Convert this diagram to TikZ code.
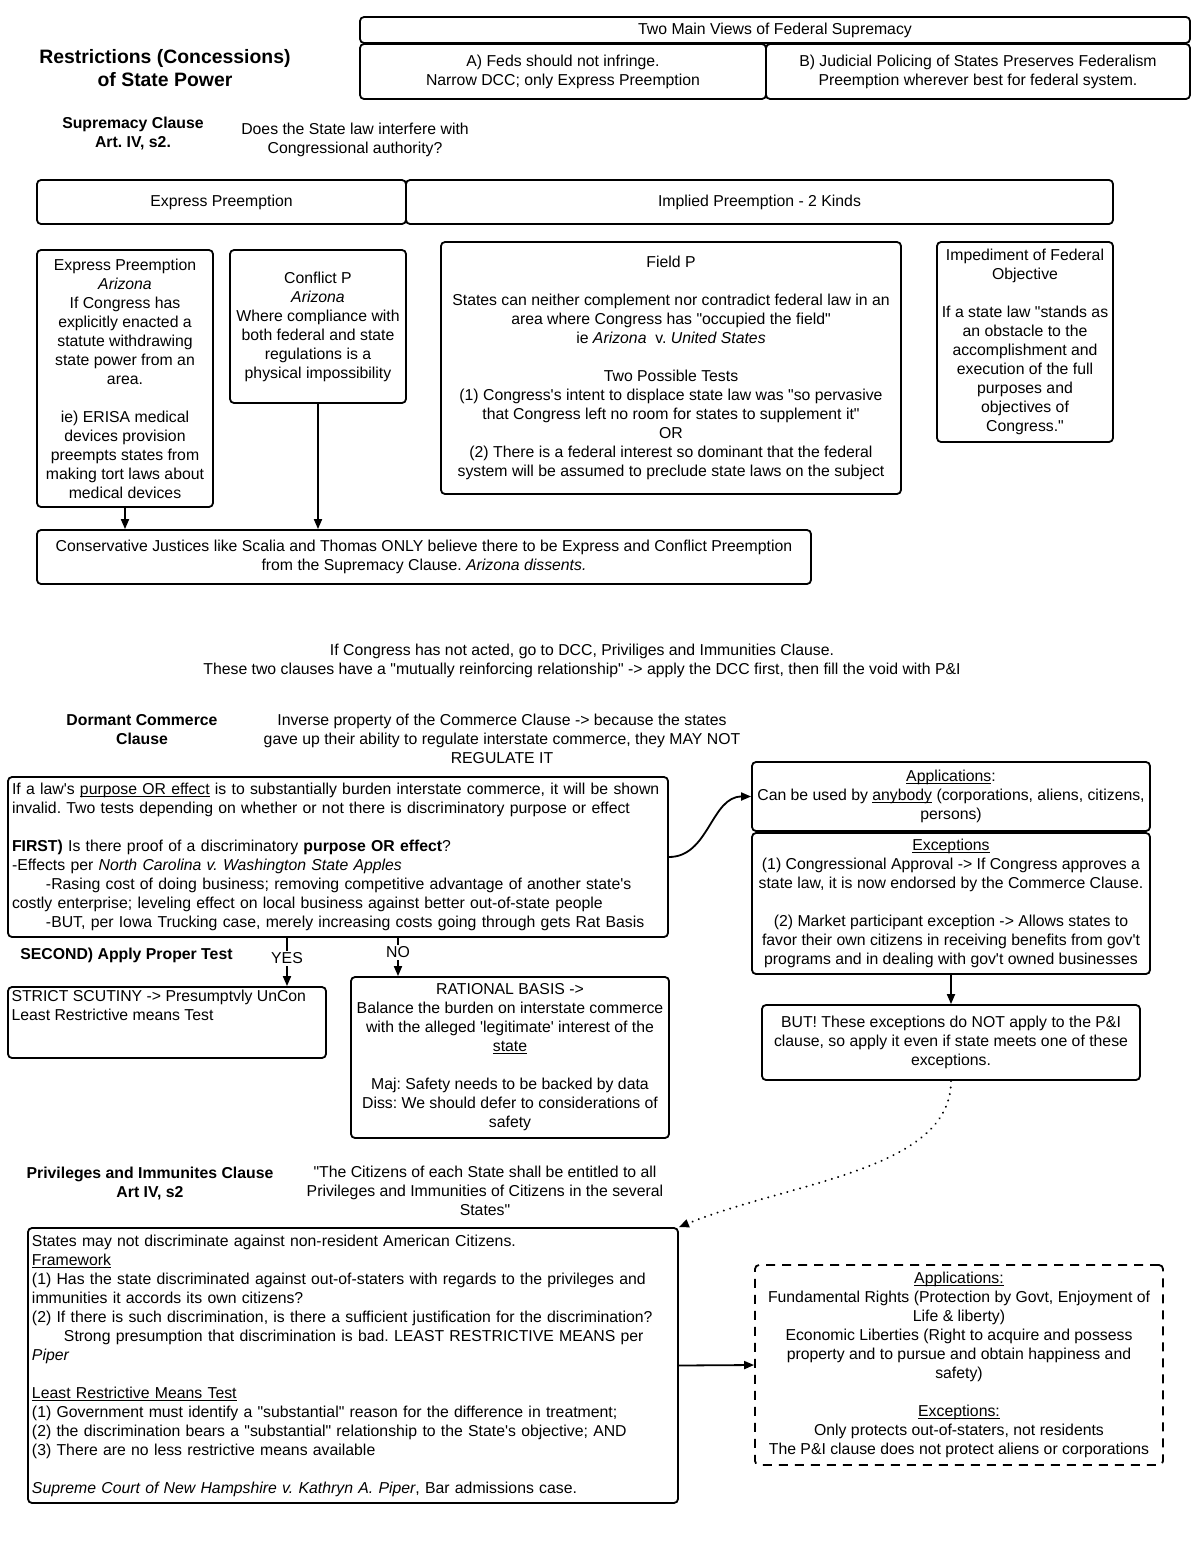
\documentclass[tikz,border=0pt]{standalone}
\usepackage{fontspec}
\setmainfont{Liberation Sans}[Ligatures=TeXOff]
\usetikzlibrary{arrows.meta,positioning}
\frenchspacing
\newcommand{\undl}[1]{\leavevmode{\setbox0\hbox{#1}\rlap{\rule[-1.2pt]{\wd0}{0.5pt}}\box0}}

\begin{document}
\begin{tikzpicture}[x=0.5pt, y=-0.5pt,
    every node/.style={font=\fontsize{7.9pt}{9.5pt}\selectfont, inner sep=2pt},
    box/.style={draw, line width=0.9pt, rounded corners=2pt, align=center},
    dashbox/.style={box, dash pattern=on 4.5pt off 3.5pt},
    head/.style={align=center, font=\fontsize{7.9pt}{9.5pt}\selectfont\bfseries},
    arr/.style={line width=0.9pt, -{Triangle[length=5pt, width=4pt]}},
    yesno/.style={fill=white, inner sep=1pt}]
    \useasboundingbox (0,0) rectangle (1200,1553);

    % Title and views
    \node[head, font=\fontsize{9.7pt}{11.5pt}\selectfont\bfseries] (title) at (165,68) {Restrictions (Concessions)\\of State Power};
    \node[box, minimum width=415pt, minimum height=13pt] (views) at (775,30) {Two Main Views of Federal Supremacy};
    \node[box, minimum width=203pt, minimum height=27.5pt] (viewa) at (563,71.5) {A) Feds should not infringe.\\Narrow DCC; only Express Preemption};
    \node[box, minimum width=212pt, minimum height=27.5pt] (viewb) at (978,71.5) {B) Judicial Policing of States Preserves Federalism\\Preemption wherever best for federal system.};

    % Supremacy clause
    \node[head] (supc) at (133,133) {Supremacy Clause\\Art. IV, s2.};
    \node[align=center] (supq) at (355,140) {Does the State law interfere with\\Congressional authority?};
    \node[box, minimum width=184.5pt, minimum height=22pt] (expr) at (221.5,202) {Express Preemption};
    \node[box, minimum width=353.5pt, minimum height=22pt] (impl) at (759.5,202) {Implied Preemption - 2 Kinds};

    \node[box, minimum width=88pt, minimum height=128.5pt] (expd) at (125,378.5) {Express Preemption\\\textit{Arizona}\\If Congress has\\explicitly enacted a\\statute withdrawing\\state power from an\\area.\\[9.5pt]ie) ERISA medical\\devices provision\\preempts states from\\making tort laws about\\medical devices};
    \node[box, minimum width=88pt, minimum height=76.5pt] (conf) at (318,326.5) {Conflict P\\\textit{Arizona}\\Where compliance with\\both federal and state\\regulations is a\\physical impossibility};
    \node[box, minimum width=230pt, minimum height=126pt] (field) at (671,368) {Field P\\[9.5pt]States can neither complement nor contradict federal law in an\\area where Congress has "occupied the field"\\ie \textit{Arizona}~ v. \textit{United States}\\[9.5pt]Two Possible Tests\\(1) Congress's intent to displace state law was "so pervasive\\that Congress left no room for states to supplement it"\\OR\\(2) There is a federal interest so dominant that the federal\\system will be assumed to preclude state laws on the subject};
    \node[box, minimum width=88pt, minimum height=100pt] (imped) at (1025,342) {Impediment of Federal\\Objective\\[9.5pt]If a state law "stands as\\an obstacle to the\\accomplishment and\\execution of the full\\purposes and\\objectives of\\Congress."};
    \node[box, minimum width=387pt, minimum height=27pt] (cons) at (424,557) {Conservative Justices like Scalia and Thomas ONLY believe there to be Express and Conflict Preemption\\from the Supremacy Clause. \textit{Arizona dissents.}};

    \node[align=center] (note) at (582,661) {If Congress has not acted, go to DCC, Priviliges and Immunities Clause.\\These two clauses have a "mutually reinforcing relationship" -> apply the DCC first, then fill the void with P\&I};

    % Dormant commerce clause
    \node[head] (dcch) at (142,730) {Dormant Commerce\\Clause};
    \node[align=center] (dccq) at (502,739) {Inverse property of the Commerce Clause -> because the states\\gave up their ability to regulate interstate commerce, they MAY NOT\\REGULATE IT};
    \node[box, align=left, text width=326pt, minimum height=80pt] (dcc) at (338,857) {If a law's \undl{purpose OR effect} is to substantially burden interstate commerce, it will be shown\\invalid. Two tests depending on whether or not there is discriminatory purpose or effect\\[9.5pt]\textbf{FIRST)} Is there proof of a discriminatory \textbf{purpose OR effect}?\\-Effects per \textit{North Carolina v. Washington State Apples}\\\hspace*{17pt}-Rasing cost of doing business; removing competitive advantage of another state's\\costly enterprise; leveling effect on local business against better out-of-state people\\\hspace*{17pt}-BUT, per Iowa Trucking case, merely increasing costs going through gets Rat Basis};
    \node[head, anchor=west] (second) at (16,955) {SECOND) Apply Proper Test};
    \node[box, minimum width=159pt, minimum height=35.5pt] (strict) at (167,1022.5) {};
    \node[align=left, anchor=north west] (strictt) at (strict.north west) {STRICT SCUTINY -> Presumptvly UnCon\\Least Restrictive means Test};
    \node[box, minimum width=159pt, minimum height=80.5pt] (ratio) at (510,1057.5) {RATIONAL BASIS ->\\Balance the burden on interstate commerce\\with the alleged 'legitimate' interest of the\\\undl{state}\\[9.5pt]Maj: Safety needs to be backed by data\\Diss: We should defer to considerations of\\safety};

    \node[box, minimum width=199pt, minimum height=34.5pt] (apps) at (951,796.5) {\undl{Applications}:\\Can be used by \undl{anybody} (corporations, aliens, citizens,\\persons)};
    \node[box, minimum width=199pt, minimum height=70.5pt] (exc) at (951,903.5) {\undl{Exceptions}\\(1) Congressional Approval -> If Congress approves a\\state law, it is now endorsed by the Commerce Clause.\\[9.5pt](2) Market participant exception -> Allows states to\\favor their own citizens in receiving benefits from gov't\\programs and in dealing with gov't owned businesses};
    \node[box, minimum width=189pt, minimum height=37.5pt] (but) at (951,1042.5) {BUT! These exceptions do NOT apply to the P\&I\\clause, so apply it even if state meets one of these\\exceptions.};

    % Privileges and immunities clause
    \node[head] (pih) at (150,1183) {Privileges and Immunites Clause\\Art IV, s2};
    \node[align=center] (piq) at (485,1191) {"The Citizens of each State shall be entitled to all\\Privileges and Immunities of Citizens in the several\\States"};
    \node[box, align=left, text width=321pt, minimum height=137.5pt] (pi) at (353,1365.5) {States may not discriminate against non-resident American Citizens.\\\undl{Framework}\\(1) Has the state discriminated against out-of-staters with regards to the privileges and\\immunities it accords its own citizens?\\(2) If there is such discrimination, is there a sufficient justification for the discrimination?\\\hspace*{16pt}Strong presumption that discrimination is bad. LEAST RESTRICTIVE MEANS per\\\textit{Piper}\\[9.5pt]\undl{Least Restrictive Means Test}\\(1) Government must identify a "substantial" reason for the difference in treatment;\\(2) the discrimination bears a "substantial" relationship to the State's objective; AND\\(3) There are no less restrictive means available\\[9.5pt]\textit{Supreme Court of New Hampshire v. Kathryn A. Piper}, Bar admissions case.};
    \node[dashbox, minimum width=204pt, minimum height=100pt] (piapp) at (959,1365) {\undl{Applications:}\\Fundamental Rights (Protection by Govt, Enjoyment of\\Life \& liberty)\\Economic Liberties (Right to acquire and possess\\property and to pursue and obtain happiness and\\safety)\\[9.5pt]\undl{Exceptions:}\\Only protects out-of-staters, not residents\\The P\&I clause does not protect aliens or corporations};

    % Arrows
    \coordinate (yesx) at (287,0);
    \coordinate (nox) at (398,0);
    \draw[arr] (expd.south) -- (expd.south |- cons.north);
    \draw[arr] (conf.south) -- (conf.south |- cons.north);
    \draw[arr] (dcc.south -| yesx) -- node[yesno, pos=0.42] {YES} (strict.north -| yesx);
    \draw[arr] (dcc.south -| nox) -- node[yesno, pos=0.38] {NO} (ratio.north -| nox);
    \draw[arr] (dcc.east) .. controls +(40,0) and +(-40,0) .. (apps.west);
    \draw[arr] (exc.south) -- (but.north);
    \draw[arr, line width=1.1pt, line cap=round, dash pattern=on 0.01pt off 3.3pt] (but.south) .. controls +(0,90) and +(110,-45) .. (pi.north east);
    \draw[arr] (pi.east) -- (piapp.west);
\end{tikzpicture}
\end{document}
